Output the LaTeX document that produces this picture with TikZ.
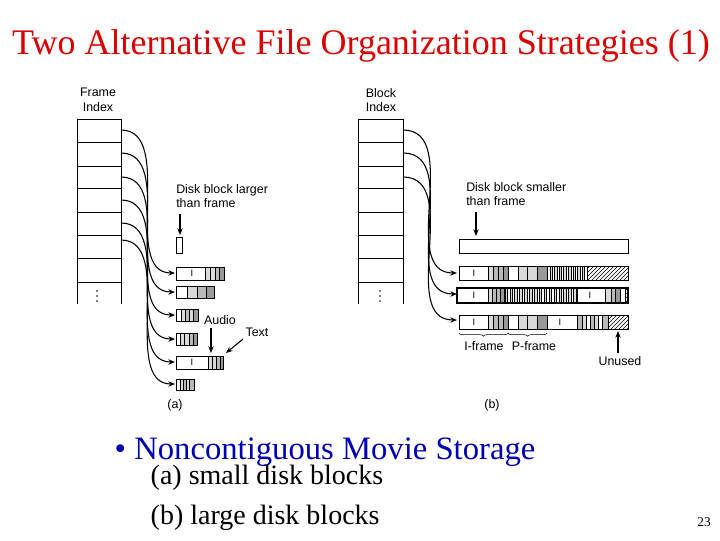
\documentclass[tikz,border=0pt]{standalone}
\usepackage{fontspec}
\setmainfont{Liberation Serif}
\newfontfamily\dsans{Liberation Sans}
\usetikzlibrary{patterns,decorations.pathreplacing,arrows.meta,calc}
\begin{document}
\begin{tikzpicture}[x=0.75pt,y=-0.75pt,
  lbl/.style={font=\dsans\fontsize{9.3}{11}\selectfont,inner sep=0pt},
  ptr/.style={-{Stealth[length=5pt,width=4pt]},line width=0.8pt},
  blk/.style={draw,line width=0.5pt},
  Wc/.style={fill=white},Lc/.style={fill=gray!30},Mc/.style={fill=gray!55},Dc/.style={fill=gray!80},
  Hc/.style={pattern=north east lines},
  ilet/.style={font=\dsans\fontsize{7}{8}\selectfont,inner sep=0pt},
  dot/.style={fill,circle,inner sep=0pt,minimum size=1.3pt}]
\useasboundingbox (0,0) rectangle (720,540);
% title
\node[text=red!85!black,font=\fontsize{27}{32}\selectfont] (title) at (361,46) {Two Alternative File Organization Strategies (1)};
% ===== (a)
\node[lbl,align=center] (fi) at (98,100) {Frame\\Index};
\draw[line width=0.6pt] (77,304) -- (77,119) -- (121,119) -- (121,304);
\foreach \y in {142,166,188,212,235,258,282} \draw[line width=0.6pt] (77,\y) -- (121,\y);
\foreach \y in {291,296,301} \node[dot] at (97,\y) {};
\foreach \n/\y in {1/130,2/153,3/177,4/200,5/223,6/240} \coordinate (as\n) at (121,\y);
\foreach \n/\y in {1/273,2/292,3/315,4/339,5/362,6/384} \coordinate (at\n) at (175,\y);
\foreach \n in {1,...,6} \draw[ptr] (as\n) .. controls ($(as\n)+(55,0)$) and ($(at\n)+(-55,0)$) .. (at\n);
% blocks a
\foreach \a/\b/\c in {176/205/Wc,205/210/Lc,210/215/Lc,215/219/Mc,219/224/Dc} \draw[blk,\c] (\a,267) rectangle (\b,280);
\node[ilet] at (192,273.5) {I};
\foreach \a/\b/\c in {176/187/Wc,187/197/Lc,197/206/Mc,206/214/Dc} \draw[blk,\c] (\a,286) rectangle (\b,298);
\foreach \a/\b/\c in {176/181/Wc,181/185/Lc,185/189/Mc,189/193/Lc,193/198/Dc} \draw[blk,\c] (\a,309) rectangle (\b,321);
\foreach \a/\b/\c in {176/180/Wc,180/184/Lc,184/189/Lc,189/193/Mc,193/197/Dc} \draw[blk,\c] (\a,333) rectangle (\b,345);
\foreach \a/\b/\c in {176/208/Wc,208/212/Lc,212/216/Lc,216/220/Mc,220/223/Dc} \draw[blk,\c] (\a,356) rectangle (\b,369);
\node[ilet] at (192,362.5) {I};
\foreach \a/\b/\c in {176/180/Wc,180/183/Lc,183/186/Mc,186/189/Lc,189/194/Mc} \draw[blk,\c] (\a,379) rectangle (\b,390);
\draw[blk] (176,237) rectangle (182,253);
\node[lbl,align=left,anchor=north west] (dla) at (176,184) {Disk block larger\\than frame};
\coordinate (dlaA) at (180,214); \coordinate (dlaB) at (180,235);
\draw[ptr] (dlaA) -- (dlaB);
\node[lbl] (audio) at (220,320) {Audio};
\coordinate (auA) at (211,328); \coordinate (auB) at (211,353);
\draw[ptr] (auA) -- (auB);
\node[lbl] (txt) at (257,332) {Text};
\coordinate (txA) at (243,339); \coordinate (txB) at (226,353);
\draw[ptr] (txA) -- (txB);
\node[lbl] (capa) at (175,405) {(a)};
% ===== (b)
\node[lbl,align=center] (bi) at (381,100) {Block\\Index};
\draw[line width=0.6pt] (358,304) -- (358,119) -- (403,119) -- (403,304);
\foreach \y in {142,166,188,212,235,258,282} \draw[line width=0.6pt] (358,\y) -- (403,\y);
\foreach \y in {291,296,301} \node[dot] at (380,\y) {};
\foreach \n/\y in {1/130,2/153,3/177} \coordinate (bs\n) at (403,\y);
\foreach \n/\y in {1/273,2/294,3/320} \coordinate (bt\n) at (457,\y);
\foreach \n in {1,2,3} \draw[ptr] (bs\n) .. controls ($(bs\n)+(60,0)$) and ($(bt\n)+(-60,0)$) .. (bt\n);
\draw[blk] (459,239) rectangle (628,253);
% row b1
\foreach \a/\b/\c in {459/488/Wc,488/493/Lc,493/498/Mc,498/503/Mc,503/508/Dc,508/518/Wc,518/527/Lc,527/537/Lc,537/547/Dc,547/587/Wc,587/628/Hc} \draw[blk,\c] (\a,266) rectangle (\b,280);
\foreach \i in {0,...,7} \draw[blk,Lc] (550+\i*4.6,266) rectangle (552.5+\i*4.6,280);
\node[ilet] at (474,273) {I};
% row b2
\foreach \a/\b/\c in {457/488/Wc,488/492/Lc,492/496/Mc,496/500/Mc,500/504/Dc,504/577/Wc,577/605/Wc,605/611/Lc,611/615/Mc,615/620/Dc,620/625/Wc,625/628/Hc} \draw[blk,\c] (\a,288) rectangle (\b,303);
\foreach \i in {0,...,14} \draw[blk,Lc] (505+\i*4.9,288) rectangle (507.5+\i*4.9,303);
\draw[line width=1.2pt] (457,288) rectangle (628,303);
\node[ilet] at (474,295.5) {I};
\node[ilet] at (590,295.5) {I};
% row b3
\foreach \a/\b/\c in {459/488/Wc,488/493/Lc,493/498/Mc,498/503/Mc,503/508/Dc,508/518/Wc,518/527/Lc,527/537/Lc,537/547/Dc,547/577/Wc,577/582/Mc,582/586/Lc,586/590/Wc,590/594/Mc,594/598/Lc,598/602/Wc,602/608/Mc,608/628/Hc} \draw[blk,\c] (\a,315) rectangle (\b,329);
\node[ilet] at (474,322) {I};
\node[ilet] at (560,322) {I};
\coordinate (brA) at (459,333); \coordinate (brB) at (508,333); \coordinate (brC) at (547,333);
\draw[decorate,decoration={brace,mirror,amplitude=2.5pt}] (brA) -- (brB);
\draw[decorate,decoration={brace,mirror,amplitude=2.5pt}] (brB) -- (brC);
\node[lbl] (ifr) at (484,346) {I-frame};
\node[lbl] (pfr) at (534,346) {P-frame};
\node[lbl] (unused) at (620,361) {Unused};
\coordinate (unA) at (618,353); \coordinate (unB) at (618,331);
\draw[ptr] (unA) -- (unB);
\node[lbl,align=left,anchor=north west] (dlb) at (466,182) {Disk block smaller\\than frame};
\coordinate (dlbA) at (476,212); \coordinate (dlbB) at (476,236);
\draw[ptr] (dlbA) -- (dlbB);
\node[lbl] (capb) at (492,405) {(b)};
% ===== text
\node[anchor=west,text=blue!70!black,font=\fontsize{24.5}{29}\selectfont] (bul) at (110,452) {\textbullet\ Noncontiguous Movie Storage};
\node[anchor=west,font=\fontsize{21}{30}\selectfont,align=left] (sub) at (146,498) {(a) small disk blocks\\(b) large disk blocks};
\node[font=\fontsize{10}{12}\selectfont] (pg) at (704,522) {23};
\end{tikzpicture}
\end{document}
